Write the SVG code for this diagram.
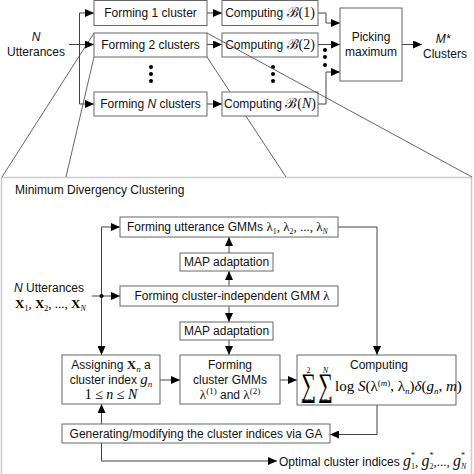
<svg xmlns="http://www.w3.org/2000/svg" width="474" height="474" viewBox="0 0 474 474">
<defs>
<marker id="ah" markerWidth="9" markerHeight="8" refX="9" refY="4" orient="auto" markerUnits="userSpaceOnUse"><path d="M0,0 L9,4 L0,8 z" fill="#000"/></marker>
<style>
.box{fill:#fff;stroke:#666;stroke-width:1}
.ln{fill:none;stroke:#444;stroke-width:1}
.arr{fill:none;stroke:#444;stroke-width:1;marker-end:url(#ah)}
.zl{fill:none;stroke:#555;stroke-width:0.9}
.t{font-family:"Liberation Sans",Arial,sans-serif;font-size:12px;fill:#111}
.m{font-family:"Liberation Serif","Times New Roman","DejaVu Serif",serif}
.c{text-anchor:middle}
.i{font-style:italic}
.dot{fill:#000}
</style>
</defs>
<rect width="474" height="474" fill="#fff"/>
<rect x="1.5" y="177.5" width="470" height="300" fill="none" stroke="#ccc" stroke-width="1.5"/>
<g id="zoom-lines-under">
<path class="zl" d="M94,33 L2,177"/>
<path class="zl" d="M94,57 L66,177"/>
<path class="zl" d="M207,57 L286,177"/>
</g>
<g id="connectors">
<path class="arr" d="M69,44.5 H94"/>
<path class="ln" d="M79.5,13 V104"/>
<path class="arr" d="M79.5,13 H94"/>
<path class="arr" d="M79.5,104 H94"/>
<path class="arr" d="M207,13 H222"/>
<path class="arr" d="M207,44.5 H222"/>
<path class="arr" d="M207,104 H222"/>
<path class="arr" d="M318,13 H326 V23 H340"/>
<path class="arr" d="M318,44.5 H340"/>
<path class="arr" d="M318,104 H326 V72 H340"/>
<path class="arr" d="M402,44.5 H422"/>
<path class="arr" d="M101.5,227 H120"/>
<path class="ln" d="M101.5,227 V296"/>
<path class="arr" d="M101.5,296 V355"/>
<path class="arr" d="M92,296 H120"/>
<circle class="dot" cx="101.5" cy="296" r="2"/>
<path class="arr" d="M229,286 V271"/>
<path class="arr" d="M229,253 V237"/>
<path class="arr" d="M229,306 V322"/>
<path class="arr" d="M229,340 V355"/>
<path class="arr" d="M338,227 H377 V355"/>
<path class="arr" d="M160,380 H180"/>
<path class="arr" d="M280,380 H297"/>
<path class="arr" d="M377,405 V434.5 H330"/>
<path class="arr" d="M101.5,424 V404"/>
<path class="arr" d="M101.5,443 V461 H277"/>
</g>
<g id="input-top">
<text class="t c i" x="36" y="41">N</text>
<text class="t c" x="36" y="56">Utterances</text>
</g>
<g id="form1"><rect class="box" x="94" y="0.5" width="113" height="25"/><text class="t c" x="150.5" y="17">Forming 1 cluster</text></g>
<g id="form2"><rect class="box" x="94" y="33" width="113" height="24"/><text class="t c" x="150.5" y="49">Forming 2 clusters</text></g>
<g id="formN"><rect class="box" x="94" y="92" width="113" height="24"/><text class="t c" x="150.5" y="108">Forming <tspan class="i">N</tspan> clusters</text></g>
<g id="dots1"><circle class="dot" cx="151" cy="67" r="2"/><circle class="dot" cx="151" cy="74" r="2"/><circle class="dot" cx="151" cy="81" r="2"/></g>
<g id="comp1"><rect class="box" x="222" y="0.5" width="96" height="25"/><text class="t c" x="270" y="17">Computing <tspan class="m" font-size="14">ℬ(1)</tspan></text></g>
<g id="comp2"><rect class="box" x="222" y="33" width="96" height="24"/><text class="t c" x="270" y="49">Computing <tspan class="m" font-size="14">ℬ(2)</tspan></text></g>
<g id="compN"><rect class="box" x="222" y="92" width="96" height="24"/><text class="t c" x="270" y="108">Computing <tspan class="m" font-size="14">ℬ(<tspan class="i">N</tspan>)</tspan></text></g>
<g id="dots2"><circle class="dot" cx="273" cy="67" r="2"/><circle class="dot" cx="273" cy="74" r="2"/><circle class="dot" cx="273" cy="81" r="2"/></g>
<g id="dots3"><circle class="dot" cx="325" cy="50" r="2"/><circle class="dot" cx="325" cy="57" r="2"/><circle class="dot" cx="325" cy="65" r="2"/></g>
<g id="pick"><rect class="box" x="340" y="8" width="62" height="73"/><text class="t c" x="371" y="41">Picking</text><text class="t c" x="371" y="56">maximum</text></g>
<g id="output-top"><text class="t c i" x="443" y="43">M*</text><text class="t c" x="445" y="58">Clusters</text></g>
<g id="zoom-lines-over"><path class="zl" d="M207,33 L472,177"/></g>
<text class="t" x="15" y="194">Minimum Divergency Clustering</text>
<g id="input-low">
<text class="t" x="14" y="292"><tspan class="i">N</tspan> Utterances</text>
<text class="m" x="15" y="308" font-size="13"><tspan font-weight="bold">X</tspan><tspan font-size="8" dy="3">1</tspan><tspan dy="-3">, </tspan><tspan font-weight="bold">X</tspan><tspan font-size="8" dy="3">2</tspan><tspan dy="-3">, ..., </tspan><tspan font-weight="bold">X</tspan><tspan font-size="8" dy="3" class="i">N</tspan></text>
</g>
<g id="utt-gmm"><rect class="box" x="120" y="217" width="218" height="20"/><text class="t" x="127" y="231">Forming utterance GMMs <tspan class="m" font-size="13">λ<tspan font-size="8" dy="3">1</tspan><tspan dy="-3">, λ</tspan><tspan font-size="8" dy="3">2</tspan><tspan dy="-3">, ..., λ</tspan><tspan font-size="8" dy="3" class="i">N</tspan></tspan></text></g>
<g id="map1"><rect class="box" x="180" y="253" width="93" height="18"/><text class="t c" x="226.5" y="266">MAP adaptation</text></g>
<g id="ci-gmm"><rect class="box" x="120" y="286" width="218" height="20"/><text class="t c" x="232" y="300">Forming cluster-independent GMM <tspan class="m" font-size="13">λ</tspan></text></g>
<g id="map2"><rect class="box" x="180" y="322" width="93" height="18"/><text class="t c" x="226.5" y="335">MAP adaptation</text></g>
<g id="assign"><rect class="box" x="62" y="355" width="98" height="49"/>
<text class="t c" x="111" y="369">Assigning <tspan class="m" font-weight="bold" font-size="13">X</tspan><tspan class="m i" font-size="9" dy="3">n</tspan><tspan dy="-3"> a</tspan></text>
<text class="t c" x="111" y="384">cluster index <tspan class="m i" font-size="15">g</tspan><tspan class="m i" font-size="9" dy="3">n</tspan></text>
<text class="m c" x="111" y="399" font-size="14">1 ≤ <tspan class="i">n</tspan> ≤ <tspan class="i">N</tspan></text>
</g>
<g id="cl-gmm"><rect class="box" x="180" y="355" width="100" height="49"/>
<text class="t c" x="230" y="369">Forming</text>
<text class="t c" x="230" y="384">cluster GMMs</text>
<text class="t c" x="230" y="399"><tspan class="m" font-size="13">λ</tspan><tspan class="m" font-size="9" dy="-5">(1)</tspan><tspan dy="5"> and </tspan><tspan class="m" font-size="13">λ</tspan><tspan class="m" font-size="9" dy="-5">(2)</tspan></text>
</g>
<g id="compute"><rect class="box" x="297" y="355" width="159" height="50"/>
<text class="t c" x="379" y="369">Computing</text>
<text class="m" font-size="33" transform="translate(308.5,396) scale(0.62,1)" text-anchor="middle">∑</text>
<text class="m c" x="308.5" y="373" font-size="8">2</text>
<text class="m c" x="308.5" y="403" font-size="8"><tspan class="i">m</tspan>=1</text>
<text class="m" font-size="33" transform="translate(325.5,396) scale(0.62,1)" text-anchor="middle">∑</text>
<text class="m c i" x="325.5" y="373" font-size="8">N</text>
<text class="m c" x="325.5" y="403" font-size="8"><tspan class="i">n</tspan>=1</text>
<text class="m" x="335" y="391" font-size="15">log <tspan class="i">S</tspan>(λ<tspan dy="-5" font-size="9">(<tspan class="i">m</tspan>)</tspan><tspan dy="5">, λ</tspan><tspan dy="3" font-size="9" class="i">n</tspan><tspan dy="-3">)</tspan><tspan class="i">δ</tspan>(<tspan class="i">g</tspan><tspan dy="3" font-size="9" class="i">n</tspan><tspan dy="-3">, </tspan><tspan class="i">m</tspan>)</text>
</g>
<g id="ga"><rect class="box" x="62" y="424" width="268" height="19"/><text class="t c" x="196" y="438">Generating/modifying the cluster indices via GA</text></g>
<g id="output-low"><text class="t" x="279" y="466">Optimal cluster indices <tspan class="m i" font-size="16">g</tspan><tspan class="m" font-size="8" dy="-8">*</tspan><tspan class="m" font-size="8" dx="-4" dy="11">1</tspan><tspan class="m" font-size="13" dy="-3">, </tspan><tspan class="m i" font-size="16">g</tspan><tspan class="m" font-size="8" dy="-8">*</tspan><tspan class="m" font-size="8" dx="-4" dy="11">2</tspan><tspan class="m" font-size="13" dy="-3">,..., </tspan><tspan class="m i" font-size="16">g</tspan><tspan class="m" font-size="8" dy="-8">*</tspan><tspan class="m i" font-size="8" dx="-4" dy="11">N</tspan></text></g>
</svg>
